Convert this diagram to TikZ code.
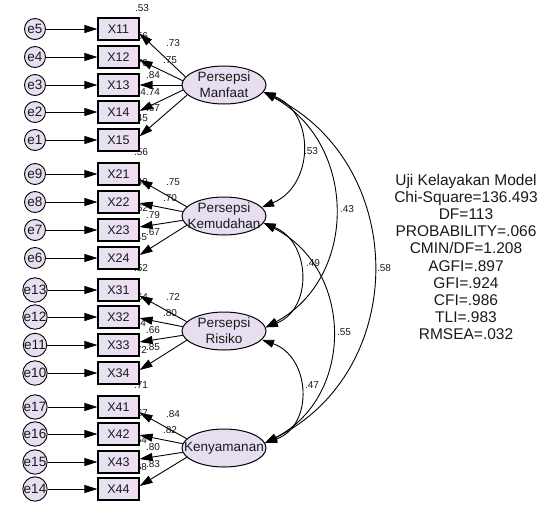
\documentclass[tikz,border=0pt]{standalone}
\usepackage{fontspec}
\setmainfont{Liberation Sans}
\usetikzlibrary{arrows.meta,shapes.geometric}
\definecolor{boxL}{RGB}{226,228,242}
\definecolor{boxR}{RGB}{242,220,242}
\definecolor{ellF}{RGB}{232,222,242}
\definecolor{txtc}{RGB}{25,25,25}
\begin{document}
\begin{tikzpicture}[x=1pt,y=-1pt,
  obs/.style={draw, line width=1.2pt, minimum width=41pt, minimum height=22pt, inner sep=0pt,
    left color=boxL, right color=boxR, text=txtc, font=\fontsize{12.5}{14}\selectfont},
  err/.style={circle, draw, line width=0.9pt, minimum size=21pt, inner sep=0pt, fill=ellF,
    text=txtc, font=\fontsize{13.5}{14}\selectfont},
  lat/.style={ellipse, draw, line width=1pt, minimum width=84pt, minimum height=38pt, inner sep=0pt, fill=ellF},
  lattxt/.style={inner sep=0pt, align=center, text=txtc, font=\fontsize{13.5}{16}\selectfont},
  lab/.style={inner sep=0pt, text=txtc, font=\fontsize{10}{11}\selectfont},
  arr/.style={line width=0.9pt, -{Triangle[length=13pt,width=8pt]}},
  cov/.style={line width=0.9pt, {Triangle[length=12pt,width=8pt]}-{Triangle[length=12pt,width=8pt]}},
]
\useasboundingbox (0,0) rectangle (557,512);

% ---------- R^2 labels ----------
\node[lab] (r11) at (142,8) {.53};
\node[lab] (r12) at (141,36) {.56};
\node[lab] (r13) at (141,63) {.70};
\node[lab] (r14) at (139,92) {.54};
\node[lab] (r15) at (141,118) {.45};
\node[lab] (r21) at (141,152) {.56};
\node[lab] (r22) at (141,182) {.49};
\node[lab] (r23) at (141,208) {.62};
\node[lab] (r24) at (140,237) {.45};
\node[lab] (r31) at (141,268) {.52};
\node[lab] (r32) at (141,297) {.64};
\node[lab] (r33) at (139,323) {.44};
\node[lab] (r34) at (140,350) {.72};
\node[lab] (r41) at (141,385) {.71};
\node[lab] (r42) at (141,413) {.67};
\node[lab] (r43) at (140,440) {.64};
\node[lab] (r44) at (140,467) {.68};

% ---------- loading labels ----------
\node[lab] (l11) at (173,43) {.73};
\node[lab] (l12) at (170,60) {.75};
\node[lab] (l13) at (153,75) {.84};
\node[lab] (l14) at (153,92) {.74};
\node[lab] (l15) at (153,108) {.67};
\node[lab] (l21) at (173,182) {.75};
\node[lab] (l22) at (170,198) {.70};
\node[lab] (l23) at (153,215) {.79};
\node[lab] (l24) at (153,232) {.67};
\node[lab] (l31) at (173,297) {.72};
\node[lab] (l32) at (170,313) {.80};
\node[lab] (l33) at (153,330) {.66};
\node[lab] (l34) at (153,347) {.85};
\node[lab] (l41) at (173,414) {.84};
\node[lab] (l42) at (170,430) {.82};
\node[lab] (l43) at (153,447) {.80};
\node[lab] (l44) at (153,464) {.83};

% ---------- covariance labels ----------
\node[lab] (c12) at (311,151) {.53};
\node[lab] (c13) at (347,209) {.43};
\node[lab] (c14) at (384,268) {.58};
\node[lab] (c23) at (313,263) {.49};
\node[lab] (c24) at (344,332) {.55};
\node[lab] (c34) at (312,385) {.47};

% ---------- observed variables ----------
\foreach \n/\y in {11/29,12/57,13/85,14/112,15/140,
                   21/174,22/202,23/230,24/258,
                   31/290,32/317,33/345,34/373,
                   41/407,42/434,43/462,44/489}
  \node[obs] (x\n) at (118.5,\y) {X\n};

% ---------- error terms ----------
\foreach \e/\n/\y in {5/11/29,4/12/57,3/13/85,2/14/112,1/15/140,
                      9/21/174,8/22/202,7/23/230,6/24/258,
                      13/31/290,12/32/317,11/33/345,10/34/373,
                      17/41/407,16/42/434,15/43/462,14/44/489}
  {\node[err] (e\e) at (35,\y) {e\e};
   \draw[arr] (e\e) -- (x\n);}

% ---------- latent variables ----------
\node[lat] (pm) at (224,85) {};
\node[lat] (pk) at (224,216) {};
\node[lat] (pr) at (224,331) {};
\node[lat] (pn) at (224,448) {};
\node[lattxt] (tpm) at (pm) {Persepsi\\Manfaat};
\node[lattxt] (tpk) at (pk) {Persepsi\\Kemudahan};
\node[lattxt] (tpr) at (pr) {Persepsi\\Risiko};
\node[lattxt] (tpn) at (pn) {Kenyamanan};

% ---------- loadings ----------
\draw[arr] (pm.168) -- (x11.-12);
\draw[arr] (pm.174) -- (x12.-8);
\draw[arr] (pm.180) -- (x13.0);
\draw[arr] (pm.187) -- (x14.3);
\draw[arr] (pm.195) -- (x15.10);
\foreach \l/\g in {pk/2,pr/3,pn/4}{
  \draw[arr] (\l.166) -- (x\g1.-15);
  \draw[arr] (\l.174) -- (x\g2.-3);
  \draw[arr] (\l.186) -- (x\g3.8);
  \draw[arr] (\l.194) -- (x\g4.8);
}

% ---------- covariances ----------
\draw[cov] (pm.-10) .. controls (316,113) and (314,186) .. (pk.13);
\draw[cov] (pm.-10) .. controls (357,143) and (359,277) .. (pr.5);
\draw[cov] (pm.-10) .. controls (409,164) and (410,371) .. (pn.7);
\draw[cov] (pk.-10) .. controls (311,242) and (313,309) .. (pr.5);
\draw[cov] (pk.-10) .. controls (354,269) and (355,397) .. (pn.7);
\draw[cov] (pr.-13) .. controls (311,357) and (314,426) .. (pn.7);

% ---------- fit statistics ----------
\node[inner sep=0pt, align=center, text=txtc, font=\fontsize{15.5}{17.1}\selectfont] (stats) at (466,257)
  {Uji Kelayakan Model\\Chi-Square=136.493\\DF=113\\PROBABILITY=.066\\CMIN/DF=1.208\\AGFI=.897\\GFI=.924\\CFI=.986\\TLI=.983\\RMSEA=.032};
\end{tikzpicture}
\end{document}
